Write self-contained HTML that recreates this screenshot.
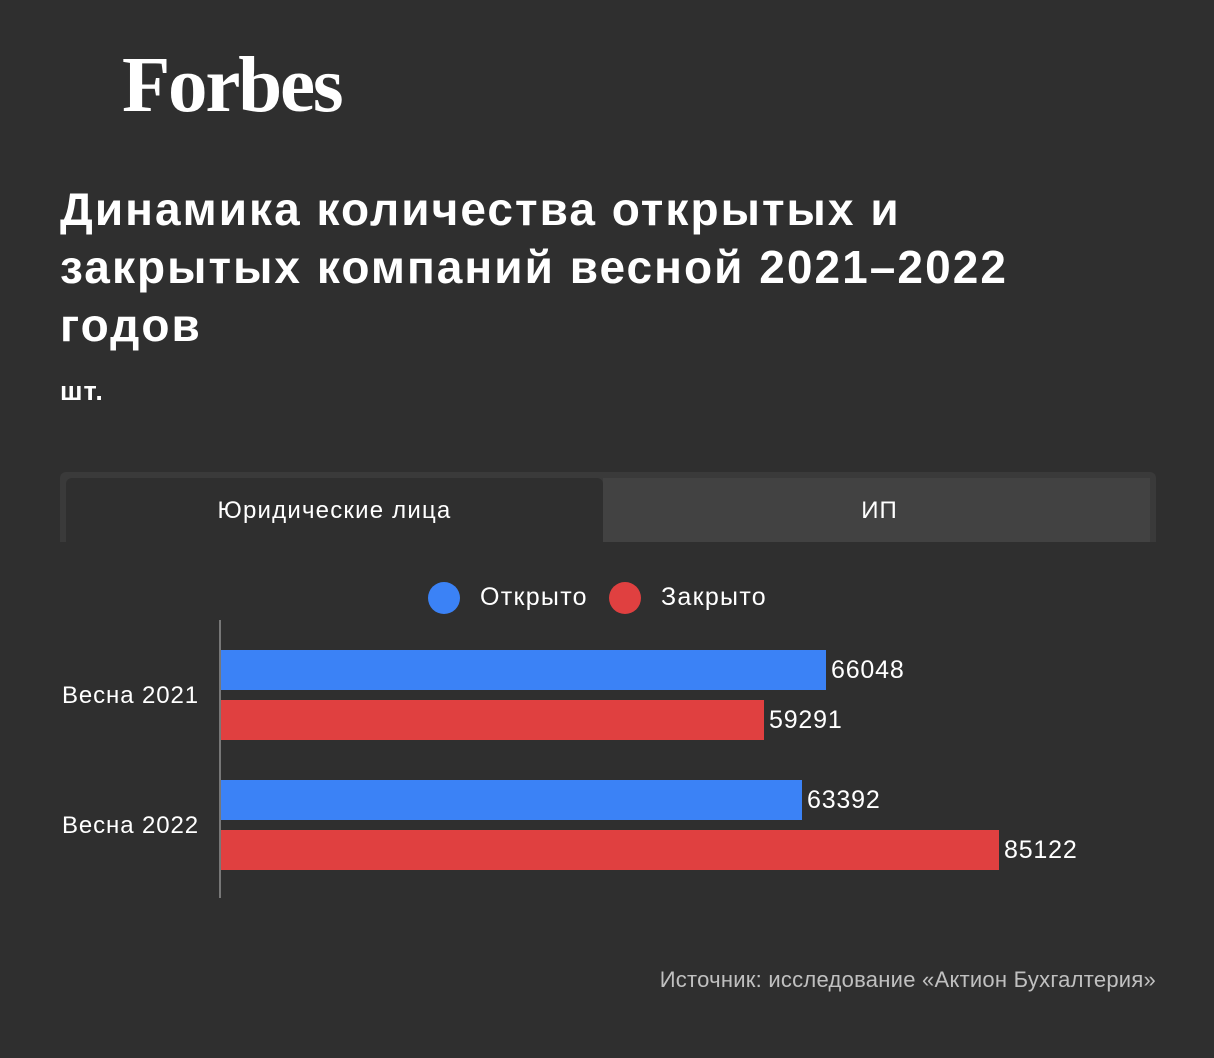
<!DOCTYPE html>
<html><head><meta charset="utf-8"><style>
body{margin:0;width:1214px;height:1058px;background:#2f2f2f;font-family:"Liberation Sans","DejaVu Sans",sans-serif;color:#fff;position:relative;overflow:hidden}
.a{position:absolute;white-space:nowrap}
.logo{left:122px;top:46px;font-family:"Liberation Serif",serif;font-weight:bold;font-size:79px;letter-spacing:-2.2px;line-height:1}
.title{left:60px;top:180px;font-weight:bold;font-size:46px;line-height:58px;letter-spacing:2.05px}
.bar{position:absolute;left:221px;height:40px}
.v{position:absolute;font-size:25px;line-height:40px;letter-spacing:0.8px;font-weight:500}
</style></head><body>
<div class="a logo">Forbes</div>
<div class="a title">Динамика количества открытых и<br>закрытых компаний весной 2021–2022<br>годов</div>
<div class="a" style="left:60px;top:376px;font-size:27px;font-weight:bold;letter-spacing:1px">шт.</div>
<div class="a" style="left:60px;top:472px;width:1096px;height:70px;background:#3a3a3a;border-radius:6px 6px 0 0"></div>
<div class="a" style="left:66px;top:478px;width:537px;height:64px;background:#2f2f2f;border-radius:6px 6px 0 0"></div>
<div class="a" style="left:603px;top:478px;width:547px;height:64px;background:#424242"></div>
<div class="a" style="left:66px;top:497px;width:537px;text-align:center;font-size:24px;letter-spacing:1.2px">Юридические лица</div>
<div class="a" style="left:603px;top:497px;width:553px;text-align:center;font-size:24px;letter-spacing:1px">ИП</div>
<div class="a" style="left:428px;top:582px;width:32px;height:32px;border-radius:50%;background:#3b82f6"></div>
<div class="a" style="left:480px;top:583px;font-size:25px;letter-spacing:1.3px">Открыто</div>
<div class="a" style="left:609px;top:582px;width:32px;height:32px;border-radius:50%;background:#e04040"></div>
<div class="a" style="left:661px;top:583px;font-size:25px;letter-spacing:1.3px">Закрыто</div>
<div class="a" style="left:219px;top:620px;width:2px;height:278px;background:#777"></div>
<div class="a" style="left:62px;top:682px;font-size:24px;letter-spacing:0.9px">Весна 2021</div>
<div class="a" style="left:62px;top:812px;font-size:24px;letter-spacing:0.9px">Весна 2022</div>
<div class="bar" style="top:650px;width:605px;background:#3b82f6"></div>
<div class="bar" style="top:700px;width:543px;background:#e04040"></div>
<div class="bar" style="top:780px;width:581px;background:#3b82f6"></div>
<div class="bar" style="top:830px;width:778px;background:#e04040"></div>
<div class="v" style="left:831px;top:650px">66048</div>
<div class="v" style="left:769px;top:700px">59291</div>
<div class="v" style="left:807px;top:780px">63392</div>
<div class="v" style="left:1004px;top:830px">85122</div>
<div class="a" style="right:58px;top:967px;font-size:22px;letter-spacing:0.25px;color:#c0c0c0">Источник: исследование «Актион Бухгалтерия»</div>
</body></html>
